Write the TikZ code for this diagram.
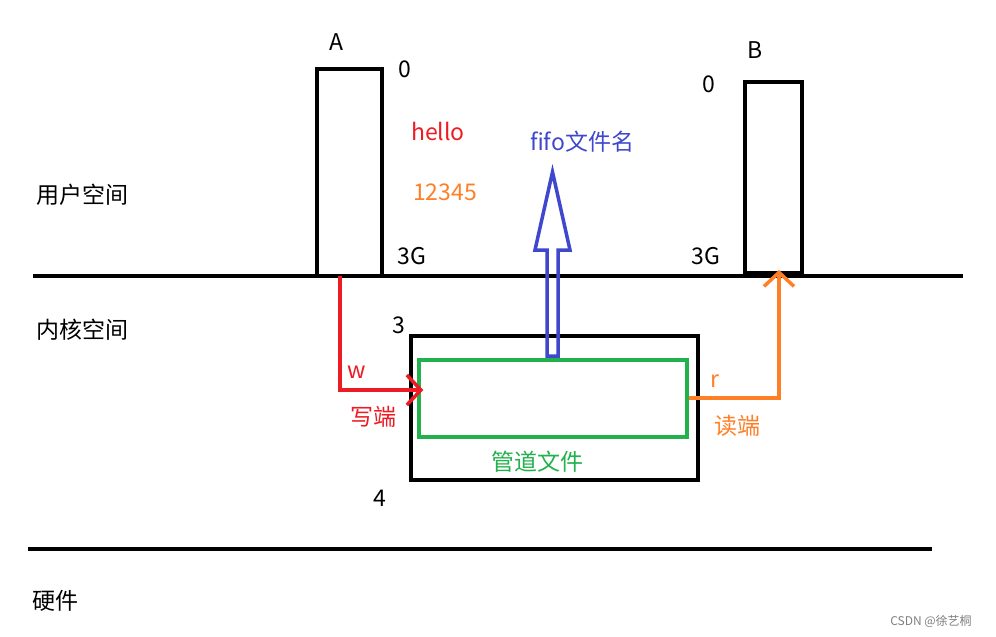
\documentclass[tikz,border=0pt]{standalone}
\usepackage{fontspec}
\setmainfont{Noto Sans CJK SC}
\usetikzlibrary{arrows.meta}
\definecolor{rd}{RGB}{237,28,36}
\definecolor{og}{RGB}{255,127,39}
\definecolor{gn}{RGB}{34,177,76}
\definecolor{bl}{RGB}{63,72,204}
\begin{document}
\begin{tikzpicture}[x=1pt,y=-1pt,
  lbl/.style={font=\fontsize{23}{26}\selectfont,inner sep=0pt},
  thick3/.style={line width=3.5pt}]
\useasboundingbox (0,0) rectangle (996,637);
\fill[white] (0,0) rectangle (996,637);
% lines
\coordinate (l1a) at (33,276); \coordinate (l1b) at (963,276);
\coordinate (l2a) at (28,549); \coordinate (l2b) at (932,549);
\draw[thick3] (l1a) -- (l1b);
\draw[thick3] (l2a) -- (l2b);
% process boxes
\draw[thick3] (317,276) -- (317,69) -- (382,69) -- (382,276);
\draw[thick3] (745,273) -- (745,82) -- (802,82) -- (802,273) -- cycle;
\node[lbl] (A) at (336,42) {A};
\node[lbl] (a0) at (405,69) {0};
\node[lbl,text=rd] (hello) at (438,131) {hello};
\node[lbl,text=og] (num) at (445,192) {12345};
\node[lbl] (a3g) at (412,256) {3G};
\node[lbl] (B) at (755,50) {B};
\node[lbl] (b0) at (709,84) {0};
\node[lbl] (b3g) at (706,256) {3G};
\node[lbl] (user) at (82,195) {用户空间};
\node[lbl] (kern) at (82,330) {内核空间};
\node[lbl] (hw) at (55,601) {硬件};
% pipe
\node[draw,thick3,minimum width=287pt,minimum height=144pt,inner sep=0pt] (outer) at (554.5,408) {};
\node[draw=gn,thick3,minimum width=268pt,minimum height=77pt,inner sep=0pt] (pipe) at (553,398.5) {};
\node[lbl] (n3) at (399,325) {3};
\node[lbl] (n4) at (380,498) {4};
\node[lbl,text=gn] (pname) at (537,462) {管道文件};
% write
\coordinate (ws) at (340,276);
\draw[rd,thick3,-{Straight Barb[length=14pt,width=30pt,line width=3.5pt]}] (ws) -- (340,390) -- ([xshift=6pt]pipe.west |- 0,390);
\node[lbl,text=rd] (w) at (357,372) {w};
\node[lbl,text=rd] (wd) at (373,417) {写端};
% read
\coordinate (re) at (779,270);
\draw[og,thick3,-{Straight Barb[length=14pt,width=30pt,line width=3.5pt]}] (pipe.east |- 0,398) -- (779,398) -- (re);
\node[lbl,text=og] (r) at (715,381) {r};
\node[lbl,text=og] (rd2) at (737,426) {读端};
% fifo hollow arrow
\draw[bl,thick3,line join=miter] (547,356) -- (547,250) -- (535,250) -- (552.5,172) -- (570,250) -- (558,250) -- (558,356) -- cycle;
\node[lbl,text=bl] (fifo) at (582,142) {fifo文件名};
\node[font=\fontsize{12}{14}\selectfont,text=gray,inner sep=0pt] (csdn) at (931,621) {CSDN @徐艺桐};
\end{tikzpicture}
\end{document}
